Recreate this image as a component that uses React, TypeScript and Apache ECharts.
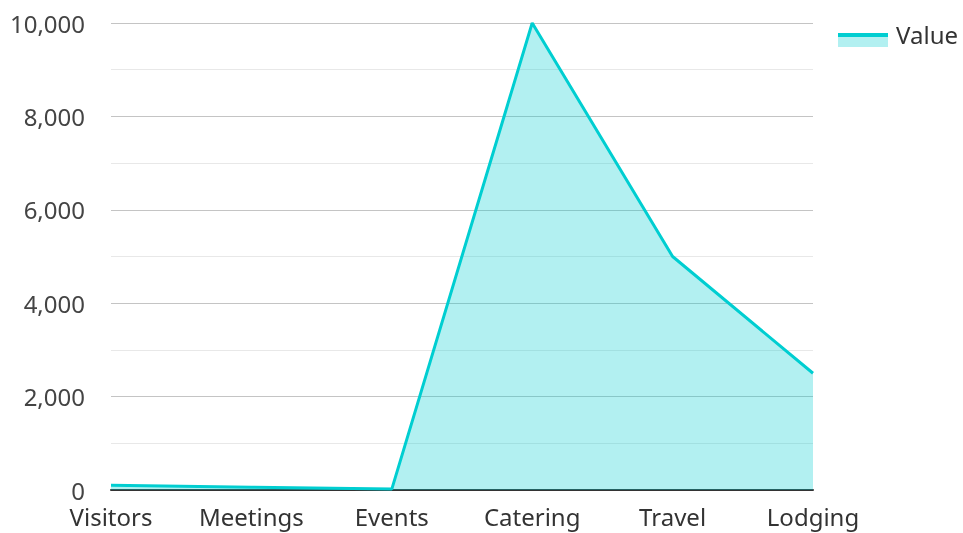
import React, { useEffect, useRef } from "react";
import * as echarts from "echarts";

const categories = ["Visitors", "Meetings", "Events", "Catering", "Travel", "Lodging"];
const values = [100, 60, 20, 10000, 5000, 2500];
const seriesName = "Value";

const LINE = "#00CED1";
const AREA = "rgba(0,206,209,0.3)";
const FONT = "Noto Sans";

export default function App() {
  const ref = useRef<HTMLDivElement>(null);
  useEffect(() => {
    if (!ref.current) return;
    const chart = echarts.init(ref.current, null, { renderer: "svg" });
    chart.setOption({
      animation: false,
      textStyle: { fontFamily: FONT },
      grid: { left: 111, right: 150, top: 23, bottom: 43 },
      legend: {
        data: [seriesName],
        right: 0,
        top: 17,
        icon: "rect",
        itemWidth: 50,
        itemHeight: 14,
        itemGap: 10,
        itemStyle: { color: "rgba(0,0,0,0)" },
        textStyle: { fontSize: 24, color: "#333", fontFamily: FONT },
      },
      graphic: [
        { type: "rect", left: 838, top: 33, shape: { width: 50, height: 14 }, style: { fill: AREA }, z: 100 },
        { type: "rect", left: 838, top: 33, shape: { width: 50, height: 4 }, style: { fill: LINE }, z: 101 },
      ],
      xAxis: {
        type: "category",
        data: categories,
        boundaryGap: false,
        axisLine: { show: true, lineStyle: { color: "#333", width: 2 } },
        axisTick: { show: false },
        axisLabel: { fontSize: 24, color: "#333", margin: 14, fontFamily: FONT },
        splitLine: { show: false },
      },
      yAxis: {
        type: "value",
        min: 0,
        max: 10000,
        interval: 2000,
        axisLine: { show: false },
        axisTick: { show: false },
        axisLabel: {
          fontSize: 24,
          color: "#444",
          margin: 26,
          fontFamily: FONT,
          formatter: (v: number) => v.toLocaleString("en-US"),
        },
        splitLine: { show: true, lineStyle: { color: "#c4c4c4", width: 1 } },
        minorTick: { show: false, splitNumber: 2 },
        minorSplitLine: { show: true, lineStyle: { color: "#e8e8e8", width: 1 } },
      },
      series: [
        {
          name: seriesName,
          type: "line",
          data: values,
          symbol: "none",
          lineStyle: { color: LINE, width: 3 },
          itemStyle: { color: LINE },
          areaStyle: { color: AREA, opacity: 1 },
        },
      ],
    });
    return () => chart.dispose();
  }, []);
  return (
    <div
      ref={ref}
      style={{ position: "fixed", left: 0, top: 0, width: 963, height: 533 }}
    />
  );
}
